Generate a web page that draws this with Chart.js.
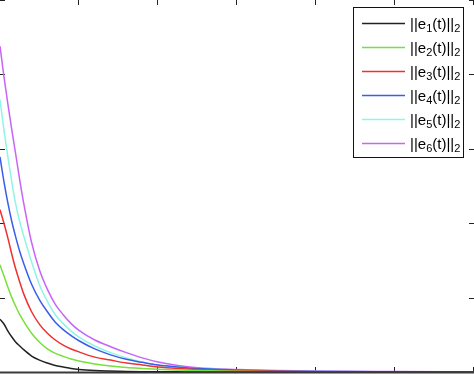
<!DOCTYPE html>
<html>
<head>
<meta charset="utf-8">
<script src="https://cdn.jsdelivr.net/npm/chart.js@4.4.0/dist/chart.umd.min.js"></script>
<style>
html, body { margin: 0; padding: 0; background: #fff; overflow: hidden; }
#wrap { width: 474px; height: 374px; }
</style>
</head>
<body>
<div id="wrap"><canvas id="chart1" width="474" height="374"></canvas></div>
<script>
// time samples (x) and error norms
const times = [0, 0.05, 0.1, 0.15, 0.2, 0.25, 0.3, 0.4, 0.5, 0.6, 0.7, 0.8, 0.9, 1.0, 1.2, 1.4, 1.6, 1.8, 2.0, 2.25, 2.5, 3, 3.5, 4, 5, 6];

const e1 = [0.71, 0.645, 0.55, 0.47, 0.40, 0.35, 0.30, 0.215, 0.16, 0.12, 0.087, 0.067, 0.047, 0.034, 0.02, 0.013, 0.008, 0.005, 0.003, 0.002, 0.001, 0.001, 0, 0, 0, 0];
const e2 = [1.44, 1.29, 1.14, 1.00, 0.88, 0.77, 0.68, 0.52, 0.40, 0.31, 0.25, 0.21, 0.175, 0.148, 0.108, 0.08, 0.06, 0.047, 0.036, 0.027, 0.02, 0.011, 0.005, 0.003, 0.001, 0];
const e3 = [2.18, 2.00, 1.80, 1.58, 1.38, 1.21, 1.05, 0.81, 0.64, 0.52, 0.43, 0.36, 0.31, 0.27, 0.20, 0.16, 0.12, 0.094, 0.067, 0.047, 0.034, 0.02, 0.01, 0.005, 0.002, 0.001];
const e4 = [2.89, 2.56, 2.27, 2.02, 1.81, 1.62, 1.46, 1.18, 0.97, 0.81, 0.67, 0.57, 0.49, 0.42, 0.31, 0.23, 0.17, 0.13, 0.094, 0.067, 0.047, 0.027, 0.013, 0.007, 0.003, 0.001];
const e5 = [3.66, 3.25, 2.89, 2.55, 2.25, 2.02, 1.83, 1.48, 1.17, 0.95, 0.77, 0.65, 0.55, 0.47, 0.35, 0.26, 0.19, 0.135, 0.094, 0.067, 0.047, 0.027, 0.013, 0.007, 0.003, 0.001];
const e6 = [4.38, 3.97, 3.60, 3.25, 2.92, 2.58, 2.27, 1.74, 1.37, 1.11, 0.91, 0.77, 0.65, 0.56, 0.43, 0.34, 0.26, 0.19, 0.135, 0.088, 0.058, 0.034, 0.02, 0.013, 0.007, 0.003];

const labels = ['||e_1(t)||_2', '||e_2(t)||_2', '||e_3(t)||_2', '||e_4(t)||_2', '||e_5(t)||_2', '||e_6(t)||_2'];
const colors = ['#222222', '#77e03a', '#ee3030', '#3a5ee8', '#8ff5e6', '#c865f5'];
const series = [e1, e2, e3, e4, e5, e6];

const xTicks = [0, 1, 2, 3, 4, 5, 6];
const yTicks = [0, 1, 2, 3, 4, 5];

// matlab style box with inward ticks
const frame = {
    id: 'frame',
    beforeDatasetsDraw(chart) {
        const {ctx, chartArea: a, scales: {x, y}} = chart;
        ctx.save();
        ctx.strokeStyle = '#222';
        ctx.lineWidth = 1;
        ctx.beginPath();
        xTicks.forEach(v => {
            const px = Math.round(x.getPixelForValue(v)) - 0.5;
            ctx.moveTo(px, a.top); ctx.lineTo(px, a.top + 5);
            ctx.moveTo(px, a.bottom); ctx.lineTo(px, a.bottom - 5);
        });
        yTicks.forEach(v => {
            const py = Math.round(y.getPixelForValue(v)) + 0.5;
            ctx.moveTo(a.left, py); ctx.lineTo(a.left + 5, py);
            ctx.moveTo(a.right, py); ctx.lineTo(a.right - 5, py);
        });
        ctx.stroke();
        ctx.strokeStyle = '#3a3a3a';
        ctx.lineWidth = 2;
        ctx.beginPath();
        ctx.moveTo(a.left, a.bottom + 0.5);
        ctx.lineTo(a.right, a.bottom + 0.5);
        ctx.stroke();
        ctx.restore();
    },
    afterDraw(chart) {
        const ctx = chart.ctx;
        const bx = 353.5, by = 7.5, bw = 110, bh = 150;
        ctx.save();
        ctx.fillStyle = '#fff';
        ctx.fillRect(bx, by, bw, bh);
        ctx.strokeStyle = '#111';
        ctx.lineWidth = 1;
        ctx.strokeRect(bx, by, bw, bh);
        labels.forEach((lab, i) => {
            const ry = 23 + i * 24;
            ctx.strokeStyle = colors[i];
            ctx.lineWidth = 1.3;
            ctx.beginPath();
            ctx.moveTo(362, ry + 0.5);
            ctx.lineTo(405, ry + 0.5);
            ctx.stroke();
            // label with subscripts
            const parts = lab.split(/_(\d)/);
            let tx = 410;
            ctx.fillStyle = '#000';
            ctx.textBaseline = 'alphabetic';
            parts.forEach((p, k) => {
                if (!p) return;
                const sub = k % 2 === 1;
                ctx.font = sub ? '11px "Liberation Sans", Arial, sans-serif' : '15px "Liberation Sans", Arial, sans-serif';
                ctx.fillText(p, tx, ry + (sub ? 9 : 5.5));
                tx += ctx.measureText(p).width;
            });
        });
        ctx.restore();
    }
};

new Chart(document.getElementById('chart1'), {
    type: 'line',
    data: {
        datasets: series.map((s, i) => ({
            label: labels[i],
            data: s.map((v, j) => ({x: times[j], y: v})),
            borderColor: colors[i],
            borderWidth: 1.5,
            pointRadius: 0,
            cubicInterpolationMode: 'monotone',
            fill: false
        }))
    },
    options: {
        responsive: false,
        animation: false,
        layout: {padding: {left: 0, right: 0, top: 0, bottom: 2}},
        scales: {
            x: {type: 'linear', min: 0, max: 6, display: false},
            y: {type: 'linear', min: 0, max: 5, display: false}
        },
        plugins: {
            legend: {display: false},
            tooltip: {enabled: false}
        }
    },
    plugins: [frame]
});
</script>
</body>
</html>
